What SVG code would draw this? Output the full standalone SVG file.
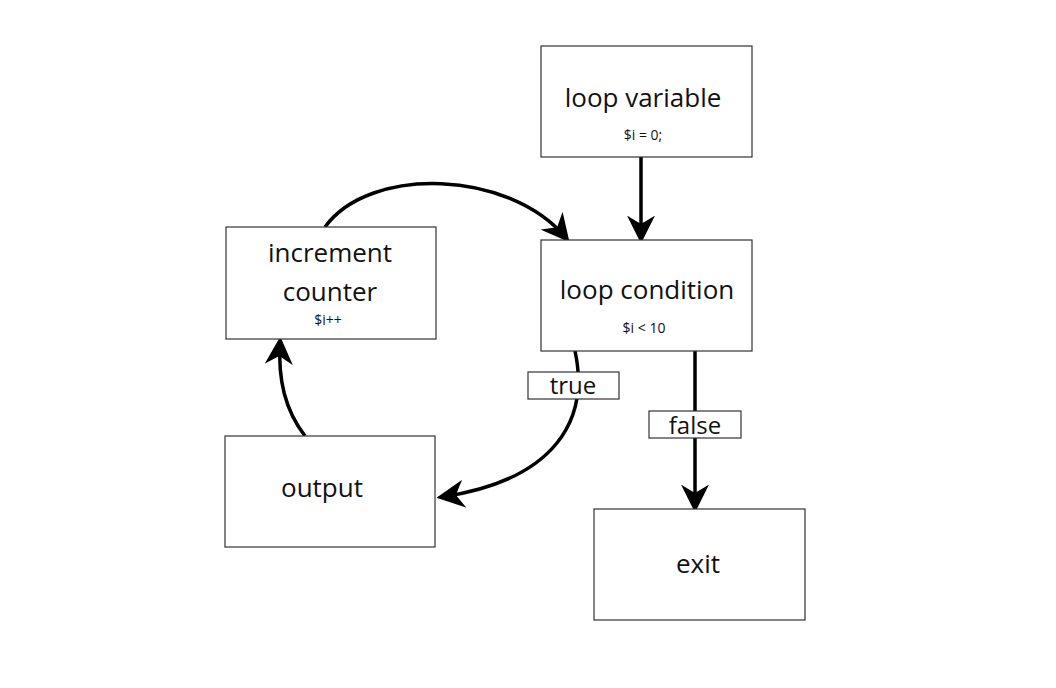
<svg xmlns="http://www.w3.org/2000/svg" width="1056" height="688" viewBox="0 0 1056 688">
<style>
.b{fill:#fff;stroke:#333;stroke-width:1.2}
.t{font-family:"Open Sans","Liberation Sans",sans-serif;fill:#111;text-anchor:middle}
.l{font-size:26px}
.s{font-size:14px}
.c{fill:none;stroke:#000;stroke-width:3.5}
</style>
<defs>
<marker id="a" viewBox="0 0 10 10" refX="8" refY="5" markerWidth="8" markerHeight="8" orient="auto" markerUnits="strokeWidth">
<path d="M0,0 L10,5 L0,10 L3,5 Z" fill="#000"/>
</marker>
</defs>
<rect width="1056" height="688" fill="#fff"/>
<g id="connectors">
<line class="c" x1="641" y1="157" x2="641" y2="238" marker-end="url(#a)"/>
<line class="c" x1="695" y1="351" x2="695" y2="507" marker-end="url(#a)"/>
<path class="c" d="M575,351 C590,420 555,480 442,497" marker-end="url(#a)"/>
<path class="c" d="M305,436 C285,410 278,380 280,342" marker-end="url(#a)"/>
<path class="c" d="M325,227 C370,165 510,170 566,238" marker-end="url(#a)"/>
</g>
<g id="loopvar"><rect class="b" x="541" y="46" width="211" height="111"/>
<text class="t l" x="643" y="107">loop variable</text><text class="t s" x="643" y="140">$i = 0;</text></g>
<g id="loopcond"><rect class="b" x="541" y="240" width="211" height="111"/>
<text class="t l" x="647" y="299">loop condition</text><text class="t s" x="644" y="333">$i &lt; 10</text></g>
<g id="increment"><rect class="b" x="226" y="227" width="210" height="112"/>
<text class="t l" x="330" y="262">increment</text><text class="t l" x="330" y="301">counter</text><text class="t s" x="328" y="325">$i++</text></g>
<g id="output"><rect class="b" x="225" y="436" width="210" height="111"/>
<text class="t l" x="322" y="497">output</text></g>
<g id="exit"><rect class="b" x="594" y="509" width="211" height="111"/>
<text class="t l" x="698" y="573">exit</text></g>
<g id="true"><rect class="b" x="528" y="372" width="91" height="27"/>
<text class="t" font-size="24" x="573" y="394">true</text></g>
<g id="false"><rect class="b" x="649" y="411" width="92" height="27"/>
<text class="t" font-size="24" x="695" y="434">false</text></g>
</svg>
